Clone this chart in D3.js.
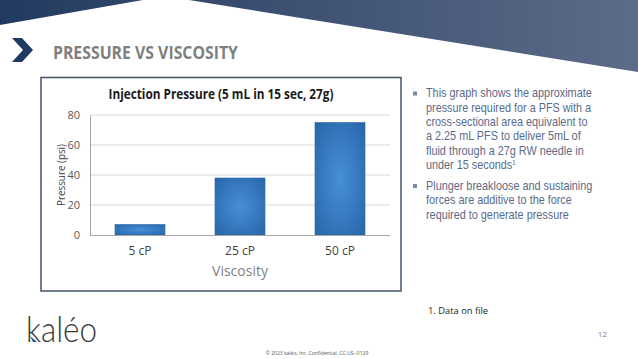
<!DOCTYPE html>
<html>
<head>
<meta charset="utf-8">
<script src="https://cdn.jsdelivr.net/npm/d3@7"></script>
<style>
  body { margin: 0; background: #fff; }
  svg { display: block; font-family: "Open Sans", "Noto Sans", sans-serif; }
</style>
</head>
<body>
<svg id="slide" width="638" height="359"></svg>
<script>
// chart data
var categories = ['5 cP', '25 cP', '50 cP'];
var pressure = [7, 38, 75];
var yTicks = [0, 20, 40, 60, 80];

var chartTitle = 'Injection Pressure (5 mL in 15 sec, 27g)';
var xTitle = 'Viscosity';
var yTitle = 'Pressure (psi)';

var bullet1 = ['This graph shows the approximate',
  'pressure required for a PFS with a',
  'cross-sectional area equivalent to',
  'a 2.25 mL PFS to deliver 5mL of',
  'fluid through a 27g RW needle in',
  'under 15 seconds'];
var bullet2 = ['Plunger breakloose and sustaining',
  'forces are additive to the force',
  'required to generate pressure'];

var svg = d3.select('#slide');
var defs = svg.append('defs');

// squeeze a text so it spans the width measured on the slide
function fitWidth(sel, w) {
  sel.attr('textLength', w).attr('lengthAdjust', 'spacingAndGlyphs');
}

// header band
var band = defs.append('linearGradient').attr('id', 'band')
  .attr('gradientUnits', 'userSpaceOnUse')
  .attr('x1', 0).attr('x2', 638).attr('y1', 0).attr('y2', 0);
band.append('stop').attr('offset', 0).attr('stop-color', '#233a60');
band.append('stop').attr('offset', 1).attr('stop-color', '#5c6b88');

svg.append('polygon').attr('points', '0,0 143,0 0,25').attr('fill', 'url(#band)');
svg.append('polygon').attr('points', '189,0 638,0 638,72').attr('fill', 'url(#band)');

// chevron + slide title
svg.append('polygon')
  .attr('points', '12,38 22,38 33,50 22,62 12,62 23,50')
  .attr('fill', '#1f3a60');
svg.append('text')
  .attr('x', 53).attr('y', 59)
  .attr('font-size', 17).attr('font-weight', 'bold')
  .attr('fill', '#7f7f7f')
  .text('PRESSURE VS VISCOSITY')
  .call(fitWidth, 185);

// chart frame
svg.append('rect')
  .attr('x', 41).attr('y', 77.5).attr('width', 360).attr('height', 213.5)
  .attr('fill', '#fff').attr('stroke', '#44546a').attr('stroke-width', 1.5);

var x = d3.scaleBand().domain(categories).range([90, 390])
  .paddingInner(0.5).paddingOuter(0.25);
var y = d3.scaleLinear().domain([0, 80]).range([235, 115]);

var g = svg.append('g');

// gridlines
g.selectAll('.grid').data(yTicks.slice(1)).enter().append('line')
  .attr('x1', 90).attr('x2', 390)
  .attr('y1', function(d) { return y(d); })
  .attr('y2', function(d) { return y(d); })
  .attr('stroke', '#d9d9d9').attr('stroke-width', 1);

// bar fill
var grad = defs.append('radialGradient').attr('id', 'barFill')
  .attr('cx', 0.5).attr('cy', 0.5).attr('r', 0.75);
grad.append('stop').attr('offset', 0).attr('stop-color', '#4690d6');
grad.append('stop').attr('offset', 1).attr('stop-color', '#2662a6');

g.selectAll('.bar').data(pressure).enter().append('rect')
  .attr('x', function(d, i) { return x(categories[i]); })
  .attr('width', x.bandwidth())
  .attr('y', function(d) { return y(d); })
  .attr('height', function(d) { return y(0) - y(d); })
  .attr('fill', 'url(#barFill)')
  .attr('stroke', '#2a67aa').attr('stroke-width', 0.6);

// y axis
var yAxis = g.append('g').attr('transform', 'translate(90,0)')
  .call(d3.axisLeft(y).tickValues(yTicks).tickSize(0).tickPadding(10));
yAxis.select('.domain').attr('stroke', '#a6a6a6');
yAxis.selectAll('text').attr('font-size', 11).attr('fill', '#595959')
  .attr('font-family', '"Open Sans", sans-serif');

// x axis
var xAxis = g.append('g').attr('transform', 'translate(0,235)')
  .call(d3.axisBottom(x).tickSize(0).tickPadding(11));
xAxis.select('.domain').attr('stroke', '#a6a6a6').attr('d', 'M90,0.5H390');
xAxis.selectAll('text').attr('font-size', 12).attr('fill', '#404040')
  .attr('font-family', '"Open Sans", sans-serif');

// titles
svg.append('text')
  .attr('x', 221).attr('y', 99).attr('text-anchor', 'middle')
  .attr('font-size', 14).attr('font-weight', 'bold').attr('fill', '#1a1a1a')
  .text(chartTitle)
  .call(fitWidth, 225);
svg.append('text')
  .attr('x', 240).attr('y', 276).attr('text-anchor', 'middle')
  .attr('font-size', 14).attr('fill', '#7f7f7f')
  .text(xTitle);
svg.append('text')
  .attr('transform', 'translate(65,175) rotate(-90)')
  .attr('text-anchor', 'middle')
  .attr('font-size', 11).attr('fill', '#404040')
  .text(yTitle)
  .call(fitWidth, 62);

// bullet text on the right
var textColor = '#5a6b88';
var para = svg.append('g').attr('fill', textColor).attr('font-size', 12.5)
  .attr('font-family', '"Liberation Sans", Arial, sans-serif');
var lineH = 14.3;
var lines1 = para.selectAll('.l1').data(bullet1).enter().append('text')
  .attr('x', 0).attr('y', function(d, i) { return 97.5 + i * lineH; })
  .text(function(d) { return d; });
var lines2 = para.selectAll('.l2').data(bullet2).enter().append('text')
  .attr('x', 0).attr('y', function(d, i) { return 190 + i * lineH; })
  .text(function(d) { return d; });
// footnote mark
var last = lines1.filter(function(d, i) { return i === bullet1.length - 1; });
last.append('tspan').attr('font-size', 7).attr('dy', -4).text('1');

// scale paragraph to the width seen on the slide
var w0 = lines1.node().getComputedTextLength();
var sx = 166 / w0;
para.attr('transform', 'translate(426,0) scale(' + sx + ',1)');

[93.5, 186].forEach(function(cy) {
  svg.append('rect').attr('x', 413).attr('y', cy - 2).attr('width', 4).attr('height', 4)
    .attr('fill', '#7a8aa6');
});

// footer
svg.append('text').attr('x', 428).attr('y', 314)
  .attr('font-size', 9).attr('fill', '#222')
  .text('1. Data on file')
  .call(fitWidth, 60);
svg.append('text').attr('x', 607).attr('y', 337).attr('text-anchor', 'end')
  .attr('font-size', 8).attr('fill', '#7f7f7f')
  .text('12');
svg.append('text').attr('x', 317).attr('y', 355).attr('text-anchor', 'middle')
  .attr('font-size', 5).attr('fill', '#555')
  .text('© 2023 kaléo, Inc. Confidential. CC-US--0129');

// logo
svg.append('text').attr('x', 26).attr('y', 342)
  .attr('font-family', 'Lato, "Open Sans", sans-serif')
  .attr('font-weight', 300)
  .attr('font-size', 36).attr('fill', '#3a3a3a')
  .text('kaléo')
  .call(fitWidth, 71);
// blue stroke on the k
svg.append('path').attr('d', 'M30,336 L37,342 L33,342 Z').attr('fill', '#1f4e8c');
</script>
</body>
</html>
